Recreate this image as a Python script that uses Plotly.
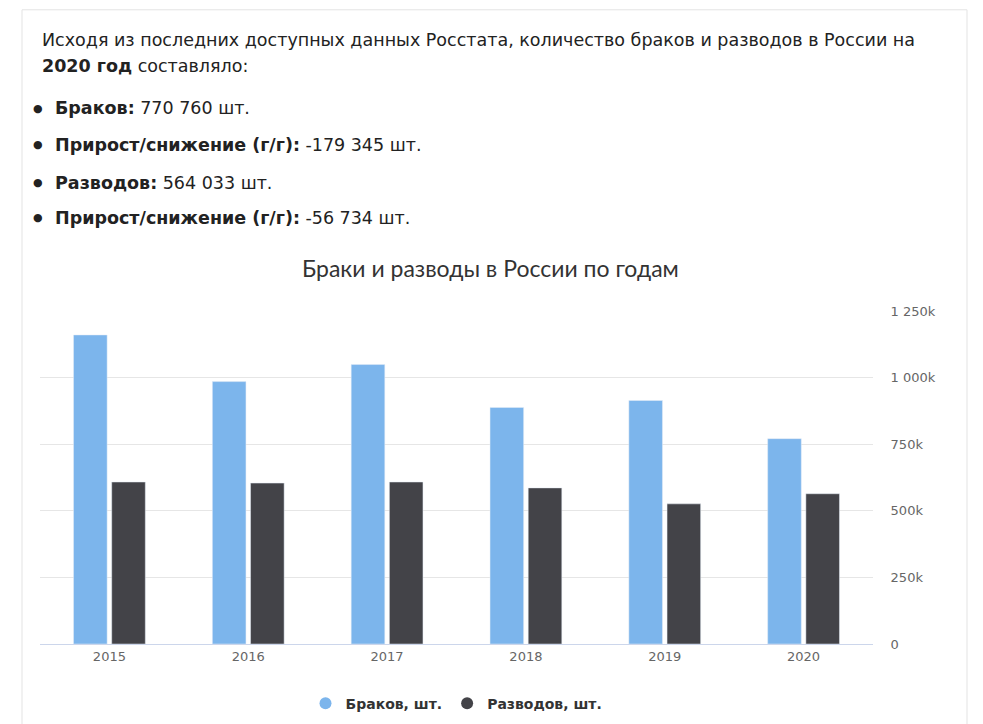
import plotly.graph_objects as go

years = ["2015", "2016", "2017", "2018", "2019", "2020"]
marriages = [1160000, 985000, 1049000, 888000, 914000, 770760]
divorces = [608000, 604000, 608000, 586000, 526000, 564033]
tick_vals = [0, 250000, 500000, 750000, 1000000, 1250000]
tick_text = ["0", "250k", "500k", "750k", "1 000k", "1 250k"]

W, H = 983, 724
OFF = 8  # page body margin offset
L, R, T, B = 40 - OFF, 983 - 873 + OFF, 311 - OFF, 724 - 646 + OFF
pw, ph = W - L - R, H - T - B
def px(x): return (x - OFF - L) / pw
def py(y): return (H - B - (y - OFF)) / ph

fig = go.Figure()
fig.add_bar(x=years, y=marriages, name="Браков, шт.", marker_color="#7cb5ec", showlegend=False)
fig.add_bar(x=years, y=divorces, name="Разводов, шт.", marker_color="#434348", showlegend=False)
fig.add_scatter(x=[None], y=[None], mode="markers", name="<b>Браков, шт.</b>",
                marker=dict(symbol="circle", size=12, color="#7cb5ec"))
fig.add_scatter(x=[None], y=[None], mode="markers", name="<b>Разводов, шт.</b>",
                marker=dict(symbol="circle", size=12, color="#434348"))

font = "DejaVu Sans, sans-serif"
anns = [
    (40, 38, "Исходя из последних доступных данных Росстата, количество браков и разводов в России на"),
    (40, 65, "<b>2020 год</b> составляло:"),
    (53, 107, "<b>Браков:</b> 770 760 шт."),
    (53, 144, "<b>Прирост/снижение (г/г):</b> -179 345 шт."),
    (53, 182, "<b>Разводов:</b> 564 033 шт."),
    (53, 217, "<b>Прирост/снижение (г/г):</b> -56 734 шт."),
]
annotations = [dict(x=px(x), y=py(y), xref="paper", yref="paper", text=t, showarrow=False,
                    xanchor="left", yanchor="middle", font=dict(size=17.5, color="#222", family=font))
               for x, y, t in anns]
for y in [107, 144, 182, 217]:
    annotations.append(dict(x=px(38), y=py(y), xref="paper", yref="paper", text="●", showarrow=False,
                            xanchor="center", yanchor="middle", font=dict(size=11, color="#222", family=font)))
annotations.append(dict(x=px(490), y=py(268), xref="paper", yref="paper",
                        text="Браки и разводы в России по годам", showarrow=False,
                        xanchor="center", yanchor="middle",
                        font=dict(size=23, color="#333", family="Lato, sans-serif")))

fig.update_layout(
    width=W, height=H, margin=dict(l=L, r=R, t=T, b=B),
    paper_bgcolor="white", plot_bgcolor="white",
    barmode="group", bargap=0.45, bargroupgap=0.12,
    font=dict(family=font, color="#666"),
    annotations=annotations,
    shapes=[dict(type="rect", xref="paper", yref="paper", x0=px(22), x1=px(967), y0=py(730), y1=py(8),
                 line=dict(color="#e3e3e3", width=1), layer="below")],
    legend=dict(orientation="h", x=0.5, xanchor="center", y=py(706), yanchor="middle",
                font=dict(size=14, color="#333", family=font), itemsizing="constant"),
    xaxis=dict(showline=True, linecolor="#ccd6eb", tickfont=dict(size=13, color="#666"),
               ticks="outside", ticklen=0),
    yaxis=dict(side="right", range=[0, 1250000], tickvals=tick_vals, ticktext=tick_text,
               gridcolor="#e6e6e6", zeroline=False, tickfont=dict(size=13, color="#666"),
               ticks="outside", ticklen=14, tickcolor="rgba(0,0,0,0)"),
)
fig.write_html("out.html")
